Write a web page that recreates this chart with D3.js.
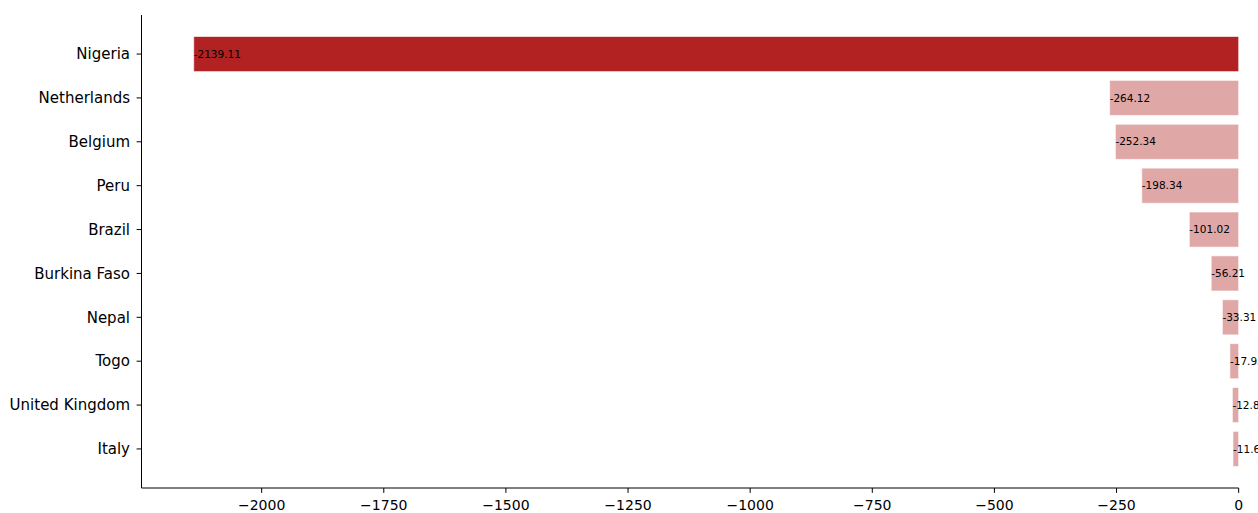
<!DOCTYPE html>
<html><head><meta charset="utf-8">
<script src="https://cdn.jsdelivr.net/npm/d3@7"></script>
<style>body{margin:0;background:#fff;overflow:hidden}svg{display:block}</style>
</head><body>
<script>
const countries = ["Nigeria","Netherlands","Belgium","Peru","Brazil","Burkina Faso","Nepal","Togo","United Kingdom","Italy"];
const values = [-2139.11,-264.12,-252.34,-198.34,-101.02,-56.21,-33.31,-17.93,-12.85,-11.64];
const xTicks = [-2000,-1750,-1500,-1250,-1000,-750,-500,-250,0];

(function(){
const W = 1258, H = 513;
const svg = d3.select("body").append("svg").attr("width", W).attr("height", H);
const axLeft = 141.5, axTop = 15, axBottom = 488;
const pxPerUnit = 0.4885;
const x = d3.scaleLinear().domain([-2246, 0]).range([axLeft, axLeft + 2246*pxPerUnit]);
const y = d3.scaleLinear().domain([-0.89, 9.89]).range([axTop, axBottom]);
const barH = y(0.4) - y(-0.4);

const g = svg.append("g");
g.selectAll("rect.bar").data(values).join("rect")
  .attr("x", d => x(d)).attr("width", d => x(0) - x(d))
  .attr("y", (d,i) => y(i) - barH/2).attr("height", barH)
  .attr("fill", (d,i) => i === 0 ? "#b22222" : "rgba(178,34,34,0.4)")
  .attr("stroke", "rgba(255,255,255,0.6)").attr("stroke-width", 1);

g.selectAll("text.val").data(values).join("text")
  .attr("x", d => x(d)).attr("y", (d,i) => y(i))
  .attr("dy", "0.35em").attr("font-family", "DejaVu Sans").attr("font-size", 10.5)
  .attr("fill", "#000").text(d => d.toFixed(2));

// y axis
const yAxis = svg.append("g");
yAxis.append("line").attr("x1", axLeft).attr("x2", axLeft).attr("y1", axTop).attr("y2", axBottom).attr("stroke", "#000").attr("stroke-width", 1);
yAxis.selectAll("line.t").data(countries).join("line")
  .attr("x1", axLeft - 4.9).attr("x2", axLeft).attr("y1", (d,i) => y(i)).attr("y2", (d,i) => y(i)).attr("stroke", "#000");
yAxis.selectAll("text").data(countries).join("text")
  .attr("x", axLeft - 11.5).attr("y", (d,i) => y(i)).attr("dy", "0.35em")
  .attr("text-anchor", "end").attr("font-family", "DejaVu Sans").attr("font-size", 15).text(d => d);

// x axis
const xAxis = svg.append("g");
xAxis.append("line").attr("x1", axLeft).attr("x2", x(0)).attr("y1", axBottom).attr("y2", axBottom).attr("stroke", "#000");
xAxis.selectAll("line.t").data(xTicks).join("line")
  .attr("x1", d => x(d)).attr("x2", d => x(d)).attr("y1", axBottom).attr("y2", axBottom + 4.9).attr("stroke", "#000");
xAxis.selectAll("text").data(xTicks).join("text")
  .attr("x", d => x(d)).attr("y", axBottom + 22).attr("text-anchor", "middle")
  .attr("font-family", "DejaVu Sans").attr("font-size", 14)
  .text(d => d < 0 ? "\u2212" + Math.abs(d) : String(d));
})();
</script>
</body></html>
